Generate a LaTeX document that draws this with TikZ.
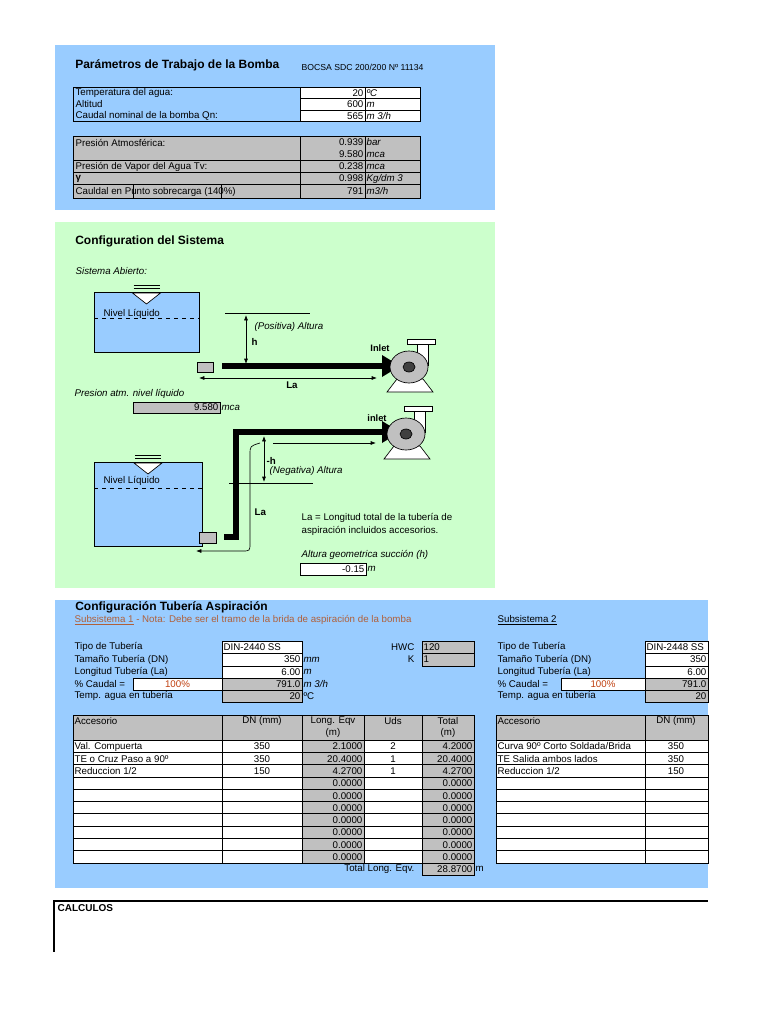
\documentclass[tikz,border=0pt]{standalone}
\usepackage{fontspec}
\setmainfont{Liberation Sans}
\usetikzlibrary{arrows.meta}
\definecolor{pblue}{HTML}{99CCFF}
\definecolor{pgreen}{HTML}{CCFFCC}
\definecolor{cgray}{HTML}{C0C0C0}
\definecolor{brn}{HTML}{B0603A}
\definecolor{red100}{HTML}{C04010}
\tikzset{
  tx/.style={font=\fontsize{7.3}{8}\selectfont, inner sep=1pt},
  ttl/.style={font=\fontsize{9}{10}\selectfont\bfseries, inner sep=0pt, anchor=west},
  cellln/.style={draw=black, line width=0.6pt},
  thin/.style={line width=0.5pt},
  pipe/.style={line width=4pt},
}
\newcommand{\bx}[5]{\draw[cellln, fill=#1] (#2,#3) rectangle (#4,#5);}
\newcommand{\tR}[3]{\node[tx, anchor=east] at (#1,#2) {#3};}
\newcommand{\tL}[3]{\node[tx, anchor=west] at (#1,#2) {#3};}
\newcommand{\tC}[3]{\node[tx] at (#1,#2) {#3};}
\newcommand{\pumpat}[2]{%
  \begin{scope}[shift={(#1,#2)}]
    \draw[thin, fill=white] (-22,25) -- (24,25) -- (14,12) -- (-12,12) -- cycle;
    \draw[thin, fill=white] (8,-24) rectangle (19,-2);
    \draw[thin, fill=white] (-2,-28) rectangle (26,-23);
    \draw[thin, fill=cgray] (0,0) ellipse [x radius=19, y radius=16];
    \draw[thin, fill=black!75] (0,0) ellipse [x radius=6, y radius=5];
  \end{scope}}
\newcommand{\tank}[4]{%
  \draw[thin, fill=pblue] (#1,#2) rectangle (#3,#4);
  \draw[thin] ({(#1+#3)/2-13},{#2-7}) -- ({(#1+#3)/2+13},{#2-7});
  \draw[thin] ({(#1+#3)/2-13},{#2-4}) -- ({(#1+#3)/2+13},{#2-4});
  \draw[thin, fill=white] ({(#1+#3)/2-14},{#2+1}) -- ({(#1+#3)/2+14},{#2+1}) -- ({(#1+#3)/2},{#2+12}) -- cycle;}
\begin{document}
\begin{tikzpicture}[x=0.75pt, y=-0.75pt]
\useasboundingbox[fill=white] (0,0) rectangle (768,1024);
% ---------- Panel 1
\fill[pblue] (55,45) rectangle (495,210);
\node[ttl] at (75,65) {Parámetros de Trabajo de la Bomba};
\node[tx, anchor=west, font=\fontsize{6.5}{8}\selectfont] at (300,67) {BOCSA SDC 200/200 Nº 11134};
\draw[cellln] (73,87) rectangle (300,121);
\foreach \a/\b in {87/98.5,98.5/110,110/121}{\bx{white}{300}{\a}{365}{\b}\bx{white}{365}{\a}{420}{\b}}
\tL{74}{93}{Temperatura del agua:}
\tL{74}{104.5}{Altitud}
\tL{74}{116}{Caudal nominal de la bomba Qn:}
\tR{365}{93}{20}\tL{365}{93}{\textit{ºC}}
\tR{365}{104.5}{600}\tL{365}{104.5}{\textit{m}}
\tR{365}{116}{565}\tL{365}{116}{\textit{m 3/h}}
\bx{cgray}{73}{136}{420}{198}
\foreach \yy in {160,172,184}{\draw[cellln] (73,\yy) -- (420,\yy);}
\draw[cellln] (300,136) -- (300,198);
\draw[cellln] (365,136) -- (365,198);
\draw[cellln] (133,184) -- (133,198);
\draw[cellln] (221,184) -- (221,198);
\tL{74}{142.5}{Presión Atmosférica:}
\tR{365}{142.5}{0.939}\tL{365}{142.5}{\textit{bar}}
\tR{365}{154.5}{9.580}\tL{365}{154.5}{\textit{mca}}
\tL{74}{166.5}{Presión de Vapor del Agua Tv:}
\tR{365}{166.5}{0.238}\tL{365}{166.5}{\textit{mca}}
\tL{74}{178.5}{\textbf{γ}}
\tR{365}{178.5}{0.998}\tL{365}{178.5}{\textit{Kg/dm 3}}
\tL{74}{191.5}{Cauldal en Punto sobrecarga (140\%)}
\tR{365}{191.5}{791}\tL{365}{191.5}{\textit{m3/h}}
% ---------- Panel 2
\fill[pgreen] (55,222) rectangle (495,588);
\node[ttl] at (75,241) {Configuration del Sistema};
\tL{74}{271}{\textit{Sistema Abierto:}}
\tank{94}{292}{199}{352}
\draw[thin, dashed] (94,318) -- (199,318);
\tL{102}{314}{Nivel Líquido}
\bx{cgray}{197}{362}{213}{372}
\draw[pipe] (222,366) -- (384,366);
\fill (382,355) -- (400,366) -- (382,377) -- cycle;
\pumpat{409}{367}
\node[tx, font=\fontsize{7}{8}\selectfont\bfseries] at (380,348) {Inlet};
\draw[thin] (225,313) -- (310,313);
\draw[thin, {Latex[length=4pt,width=3pt]}-{Latex[length=4pt,width=3pt]}] (246,315) -- (246,364);
\tL{253}{327}{\textit{(Positiva) Altura}}
\tL{250}{342}{\textbf{h}}
\draw[thin, {Latex[length=4pt,width=3pt]}-{Latex[length=4pt,width=3pt]}] (199,378) -- (377,378);
\tC{292}{385}{\textbf{La}}
\tL{73}{394}{\textit{Presion atm. nivel líquido}}
\bx{cgray}{133}{402}{220}{413}
\tR{220}{407.5}{9.580}\tL{220}{407.5}{\textit{mca}}
\tank{94}{462}{202}{546}
\draw[thin, dashed] (94,488) -- (202,488);
\tL{102}{481}{Nivel Líquido}
\bx{cgray}{199}{532}{216}{543}
\draw[pipe, line join=miter] (224,537) -- (236,537) -- (236,432) -- (384,432);
\fill (382,421) -- (400,432) -- (382,443) -- cycle;
\pumpat{406}{434}
\node[tx, font=\fontsize{7}{8}\selectfont\bfseries] at (377,418) {inlet};
\draw[thin, -{Latex[length=4pt,width=3pt]}] (273,443) -- (376,443);
\draw[thin] (229,483) -- (313,483);
\draw[thin, {Latex[length=4pt,width=3pt]}-{Latex[length=4pt,width=3pt]}] (264,436) -- (264,482);
\tL{265}{461}{\textbf{-h}}
\tL{268}{471}{\textit{(Negativa) Altura}}
\draw[thin, -{Latex[length=4pt,width=3pt]}] (260,443) .. controls (250,446) .. (250,455) -- (250,543) .. controls (250,551) .. (242,551) -- (196,551);
\tL{253}{512}{\textbf{La}}
\tL{300}{518}{La = Longitud total de la tubería de}
\tL{300}{531}{aspiración incluidos accesorios.}
\tL{300}{555}{\textit{Altura geometrica succión (h)}}
\bx{white}{300}{563}{366}{575}
\tR{366}{569}{-0.15}\tL{366}{569}{\textit{m}}
% ---------- Panel 3
\fill[pblue] (55,600) rectangle (708,888);
\node[ttl] at (75,607) {Configuración Tubería Aspiración};
\node[tx, anchor=west, text=brn] at (73,620) {\underline{Subsistema 1} - Nota: Debe ser el tramo de la brida de aspiración de la bomba};
\tL{496}{620}{\underline{Subsistema 2}}
\foreach \xo/\xa/\xb/\xc in {73/222/302/133, 496/645/708/561}{
  \tL{\xo}{647}{Tipo de Tubería}
  \tL{\xo}{659.5}{Tamaño Tubería (DN)}
  \tL{\xo}{672}{Longitud Tubería (La)}
  \tL{\xo}{684}{\% Caudal =}
  \tL{\xo}{696}{Temp. agua en tubería}
  \bx{white}{\xa}{641}{\xb}{653}
  \bx{white}{\xa}{653}{\xb}{666}
  \bx{white}{\xa}{666}{\xb}{678}
  \bx{cgray}{\xa}{678}{\xb}{690}
  \bx{cgray}{\xa}{690}{\xb}{702}
  \bx{white}{\xc}{678}{\xa}{690}
  \node[tx, text=red100] at ({(\xc+\xa)/2},684) {100\%};
  \tR{\xb}{659.5}{350}
  \tR{\xb}{672}{6.00}
  \tR{\xb}{684}{791.0}
  \tR{\xb}{696}{20}
}
\tL{222}{647}{DIN-2440 SS}
\tL{645}{647}{DIN-2448 SS}
\tL{302}{659.5}{\textit{mm}}
\tL{302}{672}{\textit{m}}
\tL{302}{684}{\textit{m 3/h}}
\tL{302}{696}{ºC}
\tR{416}{647}{HWC}
\tR{416}{659.5}{K}
\bx{cgray}{422}{641}{474}{653}
\bx{cgray}{422}{653}{474}{666}
\tL{422}{647}{120}
\tL{422}{659.5}{1}
\bx{cgray}{73}{715}{474}{740}
\foreach \i in {0,...,9}{
  \pgfmathsetmacro{\ya}{740+12.3*\i}
  \pgfmathsetmacro{\yb}{752.3+12.3*\i}
  \bx{white}{73}{\ya}{222}{\yb}
  \bx{white}{222}{\ya}{302}{\yb}
  \bx{cgray}{302}{\ya}{364}{\yb}
  \bx{white}{364}{\ya}{422}{\yb}
  \bx{cgray}{422}{\ya}{474}{\yb}
  \bx{white}{496}{\ya}{645}{\yb}
  \bx{white}{645}{\ya}{708}{\yb}
}
\foreach \xx in {222,302,364,422}{\draw[cellln] (\xx,715) -- (\xx,740);}
\tL{73}{721}{Accesorio}
\tC{262}{721}{DN (mm)}
\tC{333}{721}{Long. Eqv}
\tC{333}{733}{(m)}
\tC{393}{721}{Uds}
\tC{448}{721}{Total}
\tC{448}{733}{(m)}
\bx{cgray}{496}{715}{708}{740}
\draw[cellln] (645,715) -- (645,740);
\tL{496}{721}{Accesorio}
\tC{676}{721}{DN (mm)}
\foreach \i/\a/\b/\c/\d/\e in {0/{Val. Compuerta}/350/2.1000/2/4.2000, 1/{TE o Cruz Paso a 90º}/350/20.4000/1/20.4000, 2/{Reduccion 1/2}/150/4.2700/1/4.2700}{
  \pgfmathsetmacro{\yc}{746.5+12.3*\i}
  \tL{73}{\yc}{\a}\tC{262}{\yc}{\b}\tR{364}{\yc}{\c}\tC{393}{\yc}{\d}\tR{474}{\yc}{\e}
}
\foreach \i in {3,...,9}{
  \pgfmathsetmacro{\yc}{746.5+12.3*\i}
  \tR{364}{\yc}{0.0000}\tR{474}{\yc}{0.0000}
}
\foreach \i/\a/\b in {0/{Curva 90º Corto Soldada/Brida}/350, 1/{TE Salida ambos lados}/350, 2/{Reduccion 1/2}/150}{
  \pgfmathsetmacro{\yc}{746.5+12.3*\i}
  \tL{496}{\yc}{\a}\tC{676}{\yc}{\b}
}
\tR{416}{869}{Total Long. Eqv.}
\bx{cgray}{422}{863}{474}{875}
\tR{474}{869}{28.8700}\tL{474}{869}{m}
\draw[line width=1.5pt] (53,900.5) -- (708,900.5);
\draw[line width=1.5pt] (54,900) -- (54,952);
\node[tx, anchor=west, font=\fontsize{7.5}{8}\selectfont\bfseries] at (56,908) {CALCULOS};
\end{tikzpicture}
\end{document}
